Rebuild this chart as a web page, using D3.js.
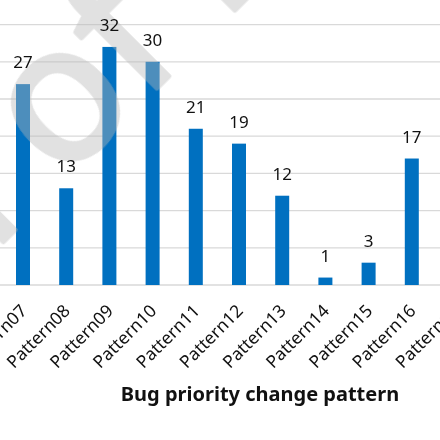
<!DOCTYPE html>
<meta charset="utf-8">
<style>
  body { margin: 0; background: #fff; }
  text { font-family: "Noto Sans", "Open Sans", sans-serif; }
</style>
<script src="https://d3js.org/d3.v7.min.js"></script>
<div id="chart"></div>
<script>
  // data (chart is cropped: Pattern07..Pattern17 visible)
  const patterns = ["Pattern07", "Pattern08", "Pattern09", "Pattern10", "Pattern11",
    "Pattern12", "Pattern13", "Pattern14", "Pattern15", "Pattern16", "Pattern17"];
  const counts = [27, 13, 32, 30, 21, 19, 12, 1, 3, 17, null];
  const yTicks = [0, 5, 10, 15, 20, 25, 30, 35];
  const xTitle = "Bug priority change pattern";

  const W = 440, H = 440;
  const baseY = 285, topY = 24.6;

  const svg = d3.select("#chart").append("svg")
    .attr("width", W).attr("height", H);

  const x = d3.scalePoint()
    .domain(patterns)
    .range([23, 23 + 43.2 * (patterns.length - 1)]);

  const y = d3.scaleLinear()
    .domain([0, 35])
    .range([baseY, topY]);

  // gridlines
  svg.append("g")
    .selectAll("line")
    .data(yTicks)
    .join("line")
    .attr("x1", 0).attr("x2", W)
    .attr("y1", d => y(d)).attr("y2", d => y(d))
    .attr("stroke", "#d9d9d9")
    .attr("stroke-width", 1.3);

  const barW = 14;
  const rows = patterns.map((p, i) => ({ p: p, v: counts[i] })).filter(d => d.v != null);

  svg.append("g")
    .selectAll("rect")
    .data(rows)
    .join("rect")
    .attr("x", d => x(d.p) - barW / 2)
    .attr("y", d => y(d.v))
    .attr("width", barW)
    .attr("height", d => baseY - y(d.v))
    .attr("fill", "#0070c0");

  // faint diagonal watermark over the plot
  const wm = svg.append("g").attr("opacity", 0.42);
  wm.append("text")
    .attr("transform", "translate(61,184) rotate(-45)")
    .attr("font-size", 190)
    .attr("fill", "#b8b8b8")
    .attr("stroke", "#b8b8b8")
    .attr("stroke-width", 5)
    .attr("stroke-linejoin", "round")
    .text("of l");
  wm.append("text")
    .attr("transform", "translate(26,219) rotate(-45)")
    .attr("text-anchor", "end")
    .attr("font-size", 190)
    .attr("fill", "#b8b8b8")
    .attr("stroke", "#b8b8b8")
    .attr("stroke-width", 5)
    .attr("stroke-linejoin", "round")
    .text("n");

  // value labels
  svg.append("g")
    .selectAll("text")
    .data(rows)
    .join("text")
    .attr("x", d => x(d.p))
    .attr("y", d => y(d.v) - 16)
    .attr("text-anchor", "middle")
    .attr("font-size", 17)
    .attr("fill", "#111")
    .text(d => d.v);

  // rotated category labels
  svg.append("g")
    .selectAll("text")
    .data(patterns)
    .join("text")
    .attr("transform", d => "translate(" + (x(d) + 5) + "," + (baseY + 27) + ") rotate(-45)")
    .attr("text-anchor", "end")
    .attr("font-size", 17.5)
    .attr("fill", "#111")
    .text(d => d);

  svg.append("text")
    .attr("x", 260)
    .attr("y", 401)
    .attr("text-anchor", "middle")
    .attr("font-size", 20)
    .attr("font-weight", "bold")
    .attr("fill", "#111")
    .text(xTitle);
</script>
